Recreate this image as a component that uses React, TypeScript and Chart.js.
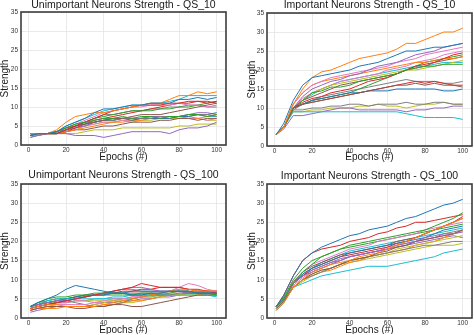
import React, { useEffect, useRef } from "react";
import { Chart, registerables } from "chart.js";

Chart.register(...registerables);

// ---------- data ----------
const epochs = [1, 5, 10, 15, 20, 25, 30, 35, 40, 45, 50, 55, 60, 65, 70, 75, 80, 85, 90, 95, 100];
const xTickValues = [0, 20, 40, 60, 80, 100];
const yTickValues = [0, 5, 10, 15, 20, 25, 30, 35];

const panelTitles = [
  "Unimportant Neurons Strength - QS_10",
  "Important Neurons Strength - QS_10",
  "Unimportant Neurons Strength - QS_100",
  "Important Neurons Strength - QS_100",
];
const xAxisTitle = "Epochs (#)";
const yAxisTitle = "Strength";

const lineColors = [
  "#1f77b4", "#ff7f0e", "#2ca02c", "#d62728", "#9467bd",
  "#8c564b", "#e377c2", "#7f7f7f", "#bcbd22", "#17becf",
];

const unimportantQS10: number[][] = [
  [2.5, 3, 3, 3.5, 5, 6, 7, 8.5, 9.5, 9.5, 10, 10.5, 10.5, 11, 11, 11, 12, 12, 12.5, 12, 12.5],
  [3, 3, 3, 4, 6, 7.5, 8, 8.5, 8.5, 9, 9.5, 10, 10.5, 11, 11, 12, 13, 13, 14, 13.5, 14],
  [2.5, 3, 3, 3.5, 4.5, 5.5, 6, 6.5, 7, 7, 7.5, 7, 7.5, 7.5, 7, 7.5, 7.5, 8, 8, 7.5, 8],
  [2.5, 3, 3, 3, 4, 5, 6, 7, 8, 9, 9.5, 10, 10.5, 10.5, 10.5, 11, 11, 11.5, 11.5, 11, 11.5],
  [2, 2.5, 3, 3, 3, 2.5, 2.5, 2.5, 2, 2.5, 3, 3.5, 3.5, 3.5, 3.5, 3, 4, 4.5, 4.5, 5, 6],
  [3, 3, 3, 3.5, 4.5, 5, 5.5, 6, 6.5, 7, 7, 7.5, 8, 8, 8, 8.5, 9, 9.5, 10, 10.5, 11],
  [2.5, 2.5, 3, 3.5, 4.5, 5.5, 6.5, 7.5, 8.5, 9, 9.5, 10, 10, 10.5, 10.5, 10.5, 11, 10.5, 10.5, 10, 10.5],
  [2.5, 3, 3, 3, 4, 5, 6, 6, 6.5, 6.5, 7, 7, 7, 7, 7.5, 7.5, 7.5, 8, 8, 8, 7.5],
  [2.5, 3, 3, 3, 3, 3, 3.5, 4, 4, 4, 4.5, 4.5, 4.5, 4.5, 4.5, 4.5, 5, 5, 5.5, 5.5, 5.5],
  [2, 2.5, 3, 3.5, 5, 6, 7, 8, 9, 9.5, 10, 10.5, 10.5, 11, 11, 11.5, 12, 13, 13, 13, 13],
  [3, 3, 3, 3, 4, 5, 5.5, 6, 6.5, 6.5, 7, 6.5, 7, 7, 7, 7, 7.5, 7.5, 8, 8, 8.5],
  [3, 3, 3, 3, 3.5, 4, 4.5, 5, 5.5, 6, 6, 6.5, 6.5, 7, 7, 7, 7.5, 7.5, 7, 7.5, 8],
  [2.5, 3, 3, 3.5, 4.5, 5.5, 6, 7, 7.5, 8, 8.5, 9, 9, 9, 9.5, 9.5, 10, 10, 10.5, 11, 11.5],
  [2.5, 3, 3, 3, 3.5, 4.5, 5.5, 6.5, 7, 7.5, 8, 8.5, 9, 9.5, 10, 10.5, 11, 11, 11.5, 11.5, 11],
  [3, 3, 3, 3.5, 4, 4.5, 5, 6, 6.5, 6.5, 7, 7, 7, 7.5, 7.5, 7.5, 7.5, 8, 8.5, 8.5, 8],
  [2.5, 3, 3, 3, 3.5, 4, 4, 4.5, 5, 5, 5.5, 6, 6, 6, 6.5, 6.5, 7, 7, 6.5, 7, 7],
  [3, 3, 3, 3, 4, 4.5, 5, 5.5, 6, 6, 6.5, 6.5, 7, 7, 7, 7.5, 7.5, 7, 7, 6.5, 7],
  [2.5, 3, 3, 3, 4, 5, 6, 7, 8, 8, 8.5, 9, 9, 9.5, 9.5, 10, 10, 10.5, 10.5, 10, 10],
  [3, 3, 3, 3, 3.5, 4, 5, 5.5, 6, 6, 6.5, 6, 6.5, 6.5, 7, 7, 7, 7, 7, 6.5, 6.5],
  [2.5, 2.5, 3, 3, 4, 4.5, 5, 6, 6.5, 7, 7, 7, 7, 7.5, 7.5, 7.5, 7.5, 7.5, 8, 7.5, 7.5],
];

const importantQS10: number[][] = [
  [3, 6, 12, 16, 18, 18.5, 19, 19.5, 20, 21, 21.5, 22, 23, 24, 25, 25, 25.5, 26, 26, 26.5, 27],
  [3, 5, 11, 15, 18, 19.5, 20, 21, 22, 23, 23.5, 24, 24.5, 25.5, 27, 27, 28, 29, 30, 30, 31],
  [3, 5, 10, 12, 14, 14.5, 15.5, 15.5, 16, 17, 17.5, 18, 18.5, 19, 20, 20.5, 21, 21, 21.5, 21.5, 21.5],
  [3, 5, 10, 11.5, 12.5, 13, 14, 14.5, 15, 16, 17, 17.5, 18, 19, 20, 21, 21.5, 22, 23, 24, 24.5],
  [3, 5, 10, 13, 15, 16, 17, 17.5, 18.5, 19, 20, 21, 21.5, 22, 23, 24, 24.5, 25, 26, 26.5, 27],
  [3, 5, 10, 11, 11.5, 12, 12.5, 13, 13.5, 14, 14.5, 15, 15.5, 16, 16, 16.5, 16, 16.5, 16, 16, 15.5],
  [3, 5, 11, 14, 16, 17, 18, 18.5, 19, 19.5, 20, 20.5, 21, 22, 22.5, 23, 24, 24.5, 25, 25.5, 26],
  [3, 5, 9.5, 9.5, 10, 10, 10.5, 10.5, 11, 11, 10.5, 11, 11, 11, 11.5, 11, 11, 11.5, 11.5, 11, 11],
  [3, 5, 10, 12, 14, 15, 16, 16.5, 17, 17.5, 18, 18.5, 19, 19.5, 20, 20, 20.5, 21, 21.5, 22, 22.5],
  [3, 5, 9, 9, 9, 9, 9, 9, 9, 9, 9, 9, 9, 9, 8.5, 8, 7.5, 7.5, 7.5, 7.5, 7],
  [3, 5, 10, 11, 12, 12.5, 13, 13.5, 14, 14, 14.5, 14.5, 14.5, 15, 15, 15, 15, 15, 14.5, 14.5, 15],
  [3, 5, 11, 14, 16, 17, 17.5, 18, 18.5, 19, 19.5, 20, 20.5, 21, 21.5, 22, 22, 22.5, 23, 23, 23.5],
  [3, 5, 10, 11, 12, 12.5, 13, 13.5, 14, 15, 16, 17, 18, 19, 20, 21, 22, 22.5, 23, 23.5, 24],
  [3, 5, 10, 11, 11.5, 12, 12.5, 13, 13.5, 14, 14.5, 15, 15.5, 16, 16.5, 17, 16.5, 17, 16.5, 16, 16],
  [3, 4.5, 8, 8, 8.5, 9, 9.5, 10, 10, 9.5, 9.5, 9.5, 9.5, 9.5, 9, 9.5, 9.5, 10, 10, 10.5, 10.5],
  [3, 5, 10, 12, 13, 14, 15, 16, 16.5, 17, 17.5, 18, 18.5, 19, 20, 20.5, 21, 22, 22.5, 23, 23.5],
  [3, 5, 10, 12.5, 14, 15, 16, 17, 17.5, 18, 18.5, 19, 20, 20.5, 21, 22, 22.5, 23, 24, 24.5, 25],
  [3, 5, 9.5, 11, 12, 13, 13.5, 14, 14.5, 15, 15.5, 16, 16.5, 17, 17.5, 17, 17, 17, 16.5, 16.5, 17],
  [3, 5, 9, 9, 9.5, 9.5, 10, 10, 10, 10.5, 10.5, 11, 10.5, 10.5, 10, 10.5, 11, 11, 11.5, 11, 11],
  [3, 5, 10, 12, 13.5, 15, 16, 17, 17.5, 18, 18.5, 19, 19.5, 20, 20.5, 21, 21, 21.5, 22, 22, 22],
];

const unimportantQS100: number[][] = [
  [3, 4, 5, 6, 7.5, 8.5, 8, 7.5, 7, 6.5, 6.5, 6, 6, 6.5, 6.5, 7, 7, 7, 6.5, 6.5, 6.5],
  [2.5, 3, 3.5, 3.5, 3, 3, 3, 3, 3.5, 4, 4.5, 5, 5.5, 6, 6.5, 7, 7.5, 7.5, 7, 7, 7],
  [3, 4, 5, 5.5, 5.5, 6, 6, 6.5, 6.5, 6.5, 6.5, 6, 6, 6, 6.5, 6.5, 7, 7, 6.5, 6.5, 6],
  [2.5, 3, 3.5, 4, 4.5, 5, 5.5, 6, 6.5, 7, 7.5, 8, 9, 8.5, 8, 8, 8, 7.5, 7, 7, 6.5],
  [3, 3.5, 4, 4.5, 4.5, 5, 5.5, 6, 6.5, 7, 7.5, 8, 8, 7.5, 7, 7, 7, 6.5, 6.5, 6.5, 6.5],
  [2, 2.5, 3, 3, 3, 2.5, 2.5, 3, 3, 3.5, 3.5, 3, 3, 3.5, 4, 4.5, 5, 5.5, 6, 6, 6],
  [2, 2.5, 3, 3.5, 3.5, 3.5, 3.5, 4, 4.5, 5, 5, 5.5, 5.5, 6, 6.5, 7, 8, 9, 8.5, 7.5, 7],
  [3, 3.5, 4, 4.5, 4.5, 4, 3.5, 3, 3, 3.5, 4, 5, 5.5, 6, 6, 6, 6.5, 6.5, 6.5, 6.5, 6.5],
  [2, 2.5, 3, 3, 3, 3, 3, 3.5, 4, 4.5, 4.5, 5, 5.5, 5.5, 5.5, 6, 6, 6, 6, 6.5, 6.5],
  [3, 4, 4.5, 5, 5, 5, 5, 5, 5, 5, 5, 5, 5.5, 5.5, 6, 6, 6, 6, 6, 6, 5.5],
  [3, 3.5, 4, 4.5, 5, 5.5, 6, 6, 6, 6.5, 6.5, 7, 7, 7, 7, 7, 7, 6.5, 6.5, 6.5, 6.5],
  [2, 2.5, 2.5, 2.5, 3, 3, 3, 3, 3.5, 3.5, 4, 4.5, 4.5, 5, 5.5, 6, 6, 6.5, 7, 7, 7],
  [3, 3.5, 4.5, 5, 5, 5.5, 5.5, 6, 6, 6, 6, 6, 6.5, 6.5, 6, 6, 6, 6.5, 6.5, 6.5, 6],
  [3, 3.5, 4, 4.5, 5, 5.5, 6, 6, 6.5, 6.5, 7, 7, 7.5, 7.5, 8, 8, 8, 7.5, 7.5, 7, 7],
  [1.5, 2, 2.5, 3, 3, 3, 3, 3.5, 4, 4, 4.5, 4.5, 5, 5, 5.5, 5.5, 6, 6.5, 7, 7, 7],
  [2.5, 3, 3.5, 4, 4.5, 5, 5.5, 6, 6, 6.5, 6.5, 6.5, 6.5, 6.5, 6.5, 7, 7, 7, 6.5, 6.5, 6.5],
  [2.5, 3, 3.5, 4, 4, 4.5, 4.5, 4, 4, 4.5, 5, 5.5, 5.5, 6, 6, 6.5, 6.5, 6.5, 6.5, 6.5, 6.5],
  [2.5, 3, 3.5, 4, 4.5, 5, 5.5, 6, 6.5, 7, 7.5, 7.5, 7, 7, 7, 7, 7, 7, 6.5, 6.5, 6.5],
  [3, 3.5, 4, 4, 4, 4.5, 4.5, 4.5, 4.5, 4.5, 4, 4, 4.5, 5, 5.5, 6, 6, 6.5, 6.5, 7, 7],
  [2.5, 3, 3.5, 4, 4, 4.5, 4.5, 5, 5, 5.5, 5.5, 6, 6, 6, 6, 6, 6, 6, 6, 6, 6],
];

const importantQS100: number[][] = [
  [3, 6, 11, 15, 17, 18.5, 19.5, 20.5, 21.5, 22, 23, 23.5, 24, 25, 26, 26.5, 27.5, 28.5, 29.5, 30, 31],
  [2, 4, 8, 10, 12, 13, 14, 14.5, 15, 16, 16.5, 17, 18, 19, 20, 21, 22, 23, 24, 25, 26],
  [3, 5, 9, 12, 14, 16, 17, 18, 19, 19.5, 20, 20.5, 21, 21.5, 22, 22.5, 23, 24, 25, 26, 27.5],
  [3, 6, 11, 15, 17, 18, 18.5, 19, 20, 20.5, 21, 22, 22.5, 23.5, 24, 25, 25, 25.5, 26, 26.5, 27],
  [3, 5, 9, 11, 12, 13, 14, 15, 16, 16.5, 17, 17.5, 18, 19, 19.5, 20, 21, 21.5, 22, 22, 22.5],
  [2.5, 4.5, 8, 10, 11.5, 12.5, 13, 14, 15, 15.5, 16, 17, 17.5, 18.5, 19, 20, 20.5, 21, 21.5, 22, 23],
  [3, 5, 9, 12, 14, 15, 16, 17, 18, 18.5, 19, 20, 20.5, 21, 21.5, 22, 23, 23.5, 24, 24.5, 25],
  [2.5, 4.5, 8, 10, 11, 12, 13, 14, 15, 15.5, 16, 16.5, 17, 17.5, 18, 18.5, 19, 19, 19.5, 20, 20],
  [2.5, 4.5, 8, 9.5, 11, 12, 13, 14, 15, 15.5, 16, 16.5, 17, 18, 18.5, 19, 19.5, 20, 20.5, 21, 21.5],
  [2, 4, 8, 9, 10, 11, 11.5, 12, 12.5, 13, 13.5, 13.5, 13.5, 14, 14.5, 15, 15.5, 16, 17, 17.5, 18],
  [3, 5, 9, 11.5, 13, 14, 15, 16, 17, 17.5, 18, 18.5, 19, 19.5, 20, 20.5, 21, 22, 23, 23.5, 24],
  [2, 4, 8, 10, 11, 12, 12.5, 13.5, 14.5, 15, 16, 16.5, 17, 17.5, 18, 19, 19.5, 20, 21, 22, 23],
  [3, 5.5, 10, 13, 15, 16, 17, 18, 18.5, 19, 19.5, 20, 20.5, 21, 21.5, 22, 22.5, 23, 23.5, 24, 24.5],
  [3, 5, 9, 11, 13, 14, 15, 16, 16.5, 17, 17.5, 18, 18.5, 19.5, 20, 21, 22, 23, 24, 25, 26.5],
  [3, 5, 9, 11, 12.5, 13.5, 14.5, 15.5, 16, 16.5, 17, 17.5, 18, 18.5, 19, 19.5, 20, 20.5, 21, 21.5, 21],
  [3, 5, 9.5, 12, 13.5, 14.5, 15.5, 16.5, 17, 17.5, 18, 18.5, 19, 20, 20.5, 21, 22, 23, 24, 25, 26],
  [2.5, 4.5, 8.5, 10.5, 12, 13, 14, 15, 16, 16.5, 17, 17.5, 18.5, 19, 19.5, 20, 20.5, 21, 21.5, 22, 22.5],
  [3, 5, 9, 11, 12.5, 13.5, 14.5, 15, 16, 16.5, 17, 17.5, 18, 18.5, 19, 20, 20.5, 21, 22, 22.5, 23],
  [2.5, 4.5, 8, 10, 11.5, 12.5, 13, 14, 14.5, 15, 15.5, 16, 16.5, 17, 17.5, 18, 18.5, 19, 19, 19, 19.5],
  [3, 5, 9, 11.5, 13, 14.5, 15.5, 16.5, 17.5, 18, 18.5, 19, 19.5, 20, 20.5, 21, 21.5, 22, 22.5, 23, 23.5],
];

// ---------- layout (pixels) ----------
const FONT = "'Liberation Sans', Arial, Helvetica, sans-serif";
const CELL_W = 237;
const CELL_H = 167;

type PanelLayout = {
  x: number;
  y: number;
  chartLeft: number;
  chartRight: number;
  chartTop: number;
  chartBottom: number;
  titleCenter: number;
  yTitleX: number;
  xTitleY: number;
};

const layouts: PanelLayout[] = [
  { x: 0, y: 0, chartLeft: 21, chartRight: 226, chartTop: 12, chartBottom: 145, titleCenter: 5, yTitleX: 5, xTitleY: 157 },
  { x: 237, y: 0, chartLeft: 30, chartRight: 235, chartTop: 13, chartBottom: 146, titleCenter: 5, yTitleX: 15, xTitleY: 157 },
  { x: 0, y: 167, chartLeft: 21, chartRight: 226, chartTop: 17, chartBottom: 151, titleCenter: 8.5, yTitleX: 5, xTitleY: 163 },
  { x: 237, y: 167, chartLeft: 30, chartRight: 235, chartTop: 17, chartBottom: 151, titleCenter: 9, yTitleX: 15, xTitleY: 163 },
];

const framePlugin = {
  id: "frame",
  afterDatasetsDraw(chart: any) {
    const { ctx, chartArea } = chart;
    const { left, top, right, bottom } = chartArea;
    ctx.save();
    ctx.strokeStyle = "#3d3d3d";
    ctx.lineWidth = 1.6;
    ctx.strokeRect(left, top, right - left, bottom - top);
    ctx.restore();
  },
};

function Panel({ title, series, layout }: { title: string; series: number[][]; layout: PanelLayout }) {
  const ref = useRef<HTMLCanvasElement | null>(null);

  useEffect(() => {
    if (!ref.current) return;
    const titleSize = 10.5;
    const titleLH = titleSize * 1.2;
    const axisSize = 10;
    const axisLH = axisSize * 1.2;
    const titlePadTop = layout.titleCenter - titleLH / 2;
    const titlePadBottom = layout.chartTop - titleLH - titlePadTop;

    const chart = new Chart(ref.current, {
      type: "line",
      data: {
        datasets: series.map((vals, i) => ({
          label: `neuron ${i + 1}`,
          data: vals.map((v, j) => ({ x: epochs[j], y: v })),
          borderColor: lineColors[i % lineColors.length],
          backgroundColor: lineColors[i % lineColors.length],
          borderWidth: 1,
          pointRadius: 0,
          tension: 0,
          fill: false,
        })),
      },
      options: {
        animation: false,
        responsive: false,
        maintainAspectRatio: false,
        events: [],
        layout: { padding: { left: 0, top: 0, bottom: 0, right: CELL_W - layout.chartRight } },
        plugins: {
          legend: { display: false },
          tooltip: { enabled: false },
          title: {
            display: true,
            text: title,
            fullSize: false,
            color: "#1a1a1a",
            font: { family: FONT, size: titleSize, weight: "normal", lineHeight: 1.2 },
            padding: { top: titlePadTop, bottom: titlePadBottom },
          },
        },
        scales: {
          x: {
            type: "linear",
            min: -3.95,
            max: 104.95,
            afterBuildTicks: (s: any) => {
              s.ticks = xTickValues.map((v) => ({ value: v }));
            },
            afterFit: (s: any) => {
              s.height = CELL_H - layout.chartBottom;
            },
            grid: { color: "#e4e4e4", lineWidth: 0.8, drawTicks: false },
            border: { display: false },
            ticks: {
              color: "#333",
              font: { family: FONT, size: 6.5 },
              padding: 1.5,
              maxRotation: 0,
              autoSkip: false,
            },
            title: {
              display: true,
              text: xAxisTitle,
              color: "#1a1a1a",
              font: { family: FONT, size: axisSize, lineHeight: 1.2 },
              padding: { top: 0, bottom: CELL_H - axisLH / 2 - layout.xTitleY },
            },
          },
          y: {
            type: "linear",
            min: 0,
            max: 35,
            afterBuildTicks: (s: any) => {
              s.ticks = yTickValues.map((v) => ({ value: v }));
            },
            afterFit: (s: any) => {
              s.width = layout.chartLeft;
            },
            grid: { color: "#e4e4e4", lineWidth: 0.8, drawTicks: false },
            border: { display: false },
            ticks: {
              color: "#333",
              font: { family: FONT, size: 6.5 },
              padding: 3,
              autoSkip: false,
            },
            title: {
              display: true,
              text: yAxisTitle,
              color: "#1a1a1a",
              font: { family: FONT, size: axisSize, lineHeight: 1.2 },
              padding: { top: layout.yTitleX - axisLH / 2, bottom: 0 },
            },
          },
        },
      },
      plugins: [framePlugin],
    } as any);

    return () => chart.destroy();
  }, [title, series, layout]);

  return (
    <canvas
      ref={ref}
      width={CELL_W}
      height={CELL_H}
      style={{ position: "absolute", left: layout.x, top: layout.y, width: CELL_W, height: CELL_H }}
    />
  );
}

export default function App() {
  const allSeries = [unimportantQS10, importantQS10, unimportantQS100, importantQS100];
  return (
    <div
      style={{
        position: "fixed",
        left: 0,
        top: 0,
        width: 474,
        height: 335,
        background: "#ffffff",
        overflow: "hidden",
      }}
    >
      {layouts.map((l, i) => (
        <Panel key={i} title={panelTitles[i]} series={allSeries[i]} layout={l} />
      ))}
    </div>
  );
}
